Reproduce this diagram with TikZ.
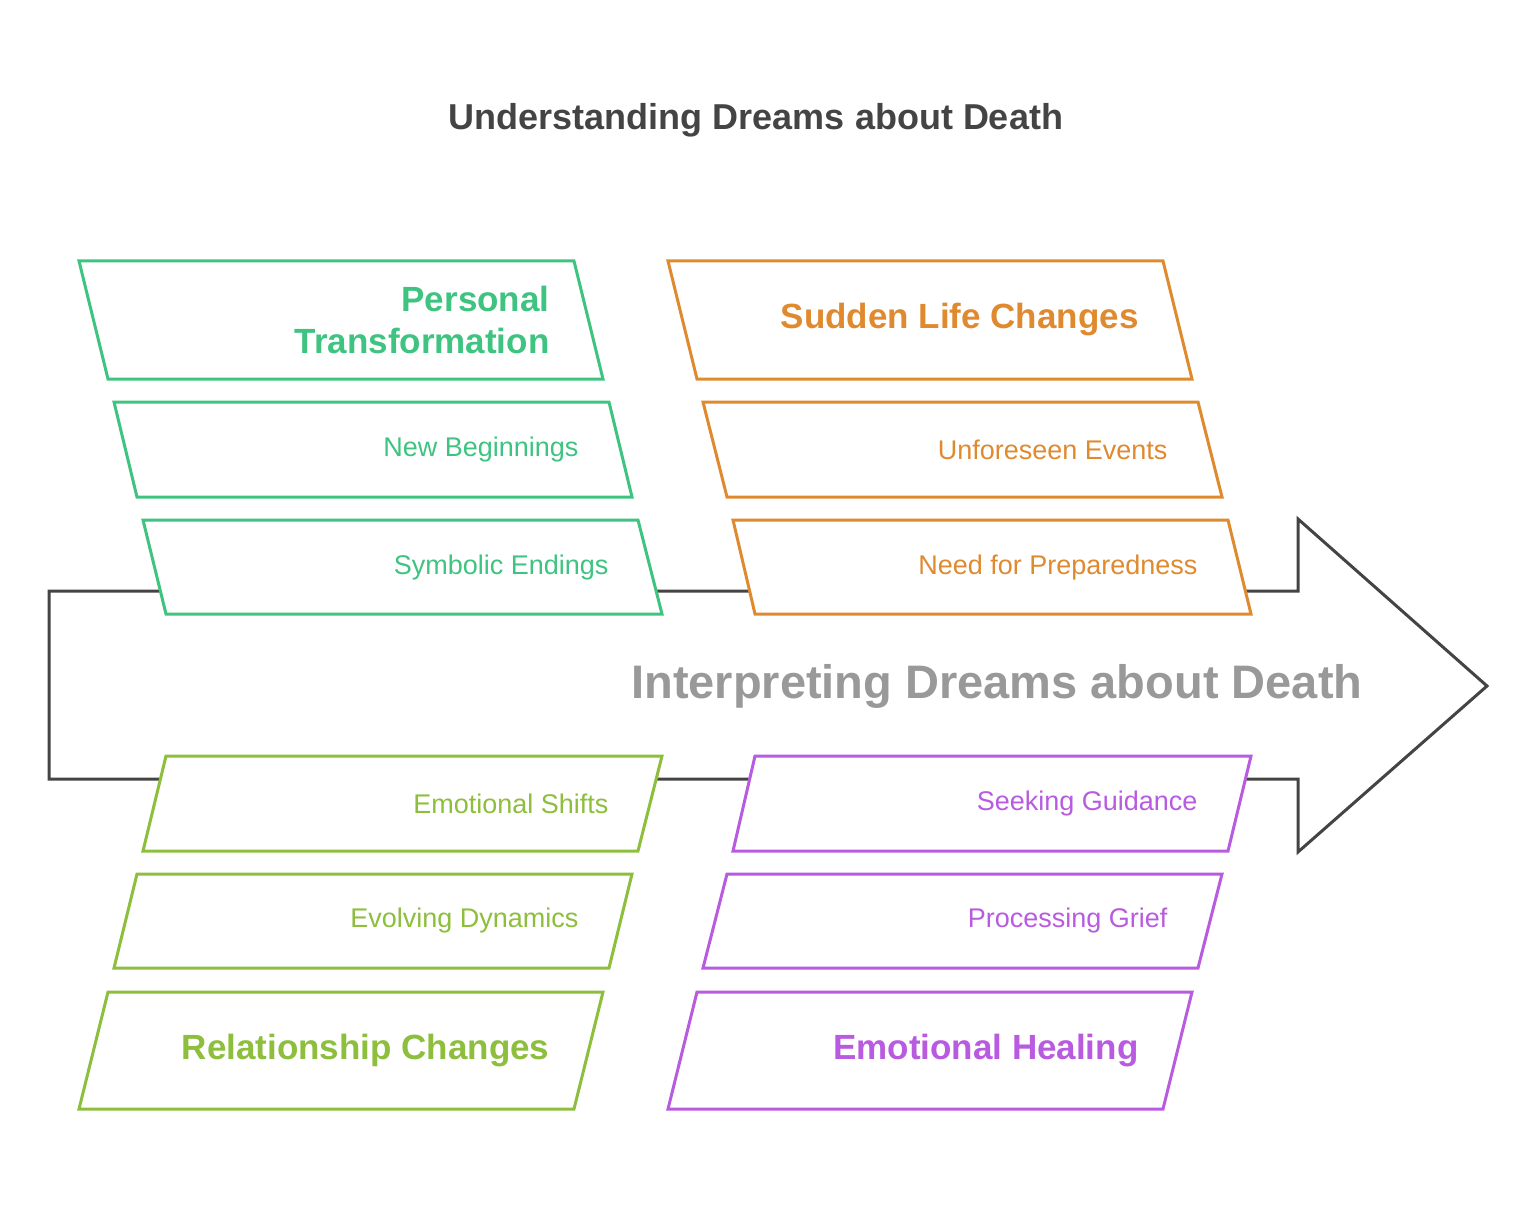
\documentclass[tikz,border=0pt]{standalone}
\usepackage{fontspec}
\setmainfont{Liberation Sans}
\definecolor{cg}{HTML}{3EC480}
\definecolor{co}{HTML}{E08A30}
\definecolor{cl}{HTML}{8DBE3C}
\definecolor{cp}{HTML}{B85BE0}
\definecolor{ct}{HTML}{444444}
\definecolor{ca}{HTML}{444444}
\begin{document}
\begin{tikzpicture}[x=1pt,y=-1pt,
  box/.style={line width=3pt,fill=white,line join=miter,draw=#1},
  big/.style={anchor=east,font=\bfseries\fontsize{35}{42}\selectfont,align=right},
  small/.style={anchor=east,font=\fontsize{27}{32}\selectfont}]
\useasboundingbox (0,0) rectangle (1536,1206);
\node[font=\bfseries\fontsize{36}{40}\selectfont,text=ct] (title) at (756,120) {Understanding Dreams about Death};
\draw[ca,line width=3pt,line join=miter] (49,591) -- (1298,591) -- (1298,519) -- (1487,686) -- (1298,852) -- (1298,779) -- (49,779) -- cycle;
\node[anchor=east,font=\bfseries\fontsize{47}{52}\selectfont,text=black!40] (main) at (1366,686) {Interpreting Dreams about Death};
% green
\draw[box=cg] (79,261) -- (574,261) -- (603,379) -- (108,379) -- cycle;
\draw[box=cg] (114,402) -- (609,402) -- (632,497) -- (137,497) -- cycle;
\draw[box=cg] (143,520) -- (638,520) -- (662,614) -- (166,614) -- cycle;
\node[big,text=cg] (pt) at (553,320) {Personal\\Transformation};
\node[small,text=cg] (nb) at (582,450) {New Beginnings};
\node[small,text=cg] (se) at (612,568) {Symbolic Endings};
% orange
\draw[box=co] (668,261) -- (1163,261) -- (1192,379) -- (697,379) -- cycle;
\draw[box=co] (703,402) -- (1198,402) -- (1222,497) -- (727,497) -- cycle;
\draw[box=co] (733,520) -- (1228,520) -- (1251,614) -- (755,614) -- cycle;
\node[big,text=co] (sl) at (1142,320) {Sudden Life Changes};
\node[small,text=co] (ue) at (1171,450) {Unforeseen Events};
\node[small,text=co] (np) at (1201,568) {Need for Preparedness};
% lime
\draw[box=cl] (166,756) -- (662,756) -- (638,851) -- (143,851) -- cycle;
\draw[box=cl] (137,874) -- (632,874) -- (609,968) -- (114,968) -- cycle;
\draw[box=cl] (108,992) -- (603,992) -- (574,1109) -- (79,1109) -- cycle;
\node[small,text=cl] (es) at (612,804) {Emotional Shifts};
\node[small,text=cl] (ed) at (582,921) {Evolving Dynamics};
\node[big,text=cl] (rc) at (553,1051) {Relationship Changes};
% purple
\draw[box=cp] (755,756) -- (1251,756) -- (1228,851) -- (733,851) -- cycle;
\draw[box=cp] (727,874) -- (1222,874) -- (1198,968) -- (703,968) -- cycle;
\draw[box=cp] (697,992) -- (1192,992) -- (1163,1109) -- (668,1109) -- cycle;
\node[small,text=cp] (sg) at (1201,804) {Seeking Guidance};
\node[small,text=cp] (pg) at (1171,921) {Processing Grief};
\node[big,text=cp] (eh) at (1142,1051) {Emotional Healing};
\end{tikzpicture}
\end{document}
